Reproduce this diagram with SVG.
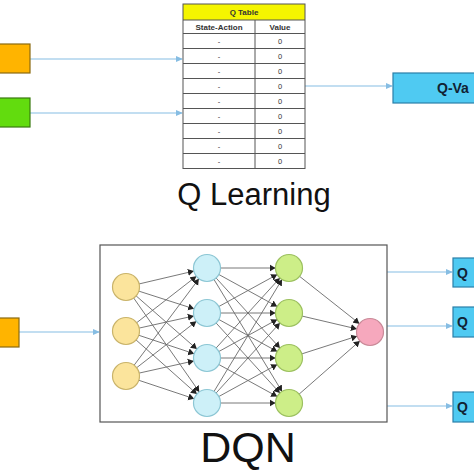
<svg xmlns="http://www.w3.org/2000/svg" width="474" height="474" viewBox="0 0 474 474">
<style>
.flow{stroke:#86bde3;stroke-width:1.2;fill:none}
.nn{stroke:#6a6a6a;stroke-width:0.9;fill:none}
.tbl{stroke:#555;stroke-width:1;fill:none}
.cell{font-family:"Liberation Sans",Arial,sans-serif;font-size:7.5px;fill:#333;text-anchor:middle}
.hdr{font-family:"Liberation Sans",Arial,sans-serif;font-size:8px;font-weight:bold;fill:#333;text-anchor:middle}
.qv{font-family:"Liberation Sans",Arial,sans-serif;font-size:14px;font-weight:bold;fill:#123;}
.title{font-family:"Liberation Sans",Arial,sans-serif;fill:#111;text-anchor:middle}
.qbox{fill:#4fcaf2;stroke:#2a7fa8;stroke-width:1.2}
</style>
<defs>
<marker id="fa" viewBox="0 0 8 8" refX="7" refY="4" markerWidth="7" markerHeight="7" markerUnits="userSpaceOnUse" orient="auto">
<path d="M0,0.5 L8,4 L0,7.5 z" fill="#86bde3"/>
</marker>
<marker id="na" viewBox="0 0 20 8" refX="19.5" refY="4" markerWidth="20" markerHeight="8" markerUnits="userSpaceOnUse" orient="auto">
<path d="M0,0.5 L6,4 L0,7.5 z" fill="#222"/>
</marker>
</defs>
<rect width="474" height="474" fill="#fff"/>

<g id="connectors">
<line class="flow" x1="30" y1="59" x2="182" y2="59" marker-end="url(#fa)"/>
<line class="flow" x1="30" y1="113" x2="182" y2="113" marker-end="url(#fa)"/>
<line class="flow" x1="305" y1="86" x2="392" y2="86" marker-end="url(#fa)"/>
<line class="flow" x1="19" y1="332" x2="99" y2="332" marker-end="url(#fa)"/>
<line class="flow" x1="387" y1="272" x2="452" y2="272" marker-end="url(#fa)"/>
<line class="flow" x1="387" y1="326" x2="452" y2="326" marker-end="url(#fa)"/>
<line class="flow" x1="387" y1="406" x2="452" y2="406" marker-end="url(#fa)"/>
</g>

<g id="input-q1"><rect x="-2" y="44" width="32" height="29" fill="#ffb400" stroke="#8a6a10" stroke-width="1.2"/></g>
<g id="input-q2"><rect x="-2" y="98" width="32" height="29" fill="#62dc0e" stroke="#3a7a10" stroke-width="1.2"/></g>

<g id="q-table">
<rect x="183" y="4" width="122" height="16" fill="#f5f500"/>
<text class="hdr" x="244" y="15">Q Table</text>
<text class="hdr" x="219" y="30">State-Action</text>
<text class="hdr" x="280" y="30">Value</text>
<rect class="tbl" x="183" y="4" width="122" height="164.5"/>
<line class="tbl" x1="183" y1="20" x2="305" y2="20"/>
<line class="tbl" x1="255" y1="20" x2="255" y2="168.5"/>
<g class="tbl">
<line x1="183" y1="33.5" x2="305" y2="33.5"/>
<line x1="183" y1="48.5" x2="305" y2="48.5"/>
<line x1="183" y1="63.5" x2="305" y2="63.5"/>
<line x1="183" y1="78.5" x2="305" y2="78.5"/>
<line x1="183" y1="93.5" x2="305" y2="93.5"/>
<line x1="183" y1="108.5" x2="305" y2="108.5"/>
<line x1="183" y1="123.5" x2="305" y2="123.5"/>
<line x1="183" y1="138.5" x2="305" y2="138.5"/>
<line x1="183" y1="153.5" x2="305" y2="153.5"/>
</g>
<g class="cell">
<text x="219" y="44">-</text><text x="280" y="44">0</text>
<text x="219" y="59">-</text><text x="280" y="59">0</text>
<text x="219" y="74">-</text><text x="280" y="74">0</text>
<text x="219" y="89">-</text><text x="280" y="89">0</text>
<text x="219" y="104">-</text><text x="280" y="104">0</text>
<text x="219" y="119">-</text><text x="280" y="119">0</text>
<text x="219" y="134">-</text><text x="280" y="134">0</text>
<text x="219" y="149">-</text><text x="280" y="149">0</text>
<text x="219" y="164">-</text><text x="280" y="164">0</text>
</g>
</g>

<g id="q-value-top"><rect class="qbox" x="393" y="73" width="90" height="30"/><text class="qv" x="437" y="93">Q-Va</text></g>

<text class="title" x="254" y="205" font-size="31">Q Learning</text>

<g id="dqn">
<rect x="100" y="245" width="287" height="177" fill="#fff" stroke="#555" stroke-width="1.2"/>
<g class="nn" marker-end="url(#na)">
<line x1="126" y1="287" x2="207" y2="268"/><line x1="126" y1="287" x2="207" y2="313"/><line x1="126" y1="287" x2="207" y2="358"/><line x1="126" y1="287" x2="207" y2="403"/>
<line x1="126" y1="331" x2="207" y2="268"/><line x1="126" y1="331" x2="207" y2="313"/><line x1="126" y1="331" x2="207" y2="358"/><line x1="126" y1="331" x2="207" y2="403"/>
<line x1="126" y1="376" x2="207" y2="268"/><line x1="126" y1="376" x2="207" y2="313"/><line x1="126" y1="376" x2="207" y2="358"/><line x1="126" y1="376" x2="207" y2="403"/>
<line x1="207" y1="268" x2="289" y2="268"/><line x1="207" y1="268" x2="289" y2="313"/><line x1="207" y1="268" x2="289" y2="358"/><line x1="207" y1="268" x2="289" y2="403"/>
<line x1="207" y1="313" x2="289" y2="268"/><line x1="207" y1="313" x2="289" y2="313"/><line x1="207" y1="313" x2="289" y2="358"/><line x1="207" y1="313" x2="289" y2="403"/>
<line x1="207" y1="358" x2="289" y2="268"/><line x1="207" y1="358" x2="289" y2="313"/><line x1="207" y1="358" x2="289" y2="358"/><line x1="207" y1="358" x2="289" y2="403"/>
<line x1="207" y1="403" x2="289" y2="268"/><line x1="207" y1="403" x2="289" y2="313"/><line x1="207" y1="403" x2="289" y2="358"/><line x1="207" y1="403" x2="289" y2="403"/>
<line x1="289" y1="268" x2="370" y2="332"/><line x1="289" y1="313" x2="370" y2="332"/><line x1="289" y1="358" x2="370" y2="332"/><line x1="289" y1="403" x2="370" y2="332"/>
</g>
<g fill="#fbe49c" stroke="#c9b36a" stroke-width="1.2">
<circle cx="126" cy="287" r="13.5"/><circle cx="126" cy="331" r="13.5"/><circle cx="126" cy="376" r="13.5"/>
</g>
<g fill="#cdf0f8" stroke="#8cc6d4" stroke-width="1.2">
<circle cx="207" cy="268" r="13.5"/><circle cx="207" cy="313" r="13.5"/><circle cx="207" cy="358" r="13.5"/><circle cx="207" cy="403" r="13.5"/>
</g>
<g fill="#cdee88" stroke="#9cc060" stroke-width="1.2">
<circle cx="289" cy="268" r="13.5"/><circle cx="289" cy="313" r="13.5"/><circle cx="289" cy="358" r="13.5"/><circle cx="289" cy="403" r="13.5"/>
</g>
<circle cx="370" cy="332" r="13.5" fill="#f6a8bd" stroke="#c98a98" stroke-width="1.2"/>
</g>

<g id="input-dqn"><rect x="-2" y="318" width="21" height="29" fill="#ffb400" stroke="#8a6a10" stroke-width="1.2"/></g>
<g id="q-out-1"><rect class="qbox" x="453" y="258" width="40" height="29"/><text class="qv" x="457" y="278">Q</text></g>
<g id="q-out-2"><rect class="qbox" x="453" y="307" width="40" height="30"/><text class="qv" x="457" y="327">Q</text></g>
<g id="q-out-3"><rect class="qbox" x="453" y="392" width="40" height="30"/><text class="qv" x="457" y="412">Q</text></g>

<text class="title" x="248" y="462" font-size="43">DQN</text>
</svg>
